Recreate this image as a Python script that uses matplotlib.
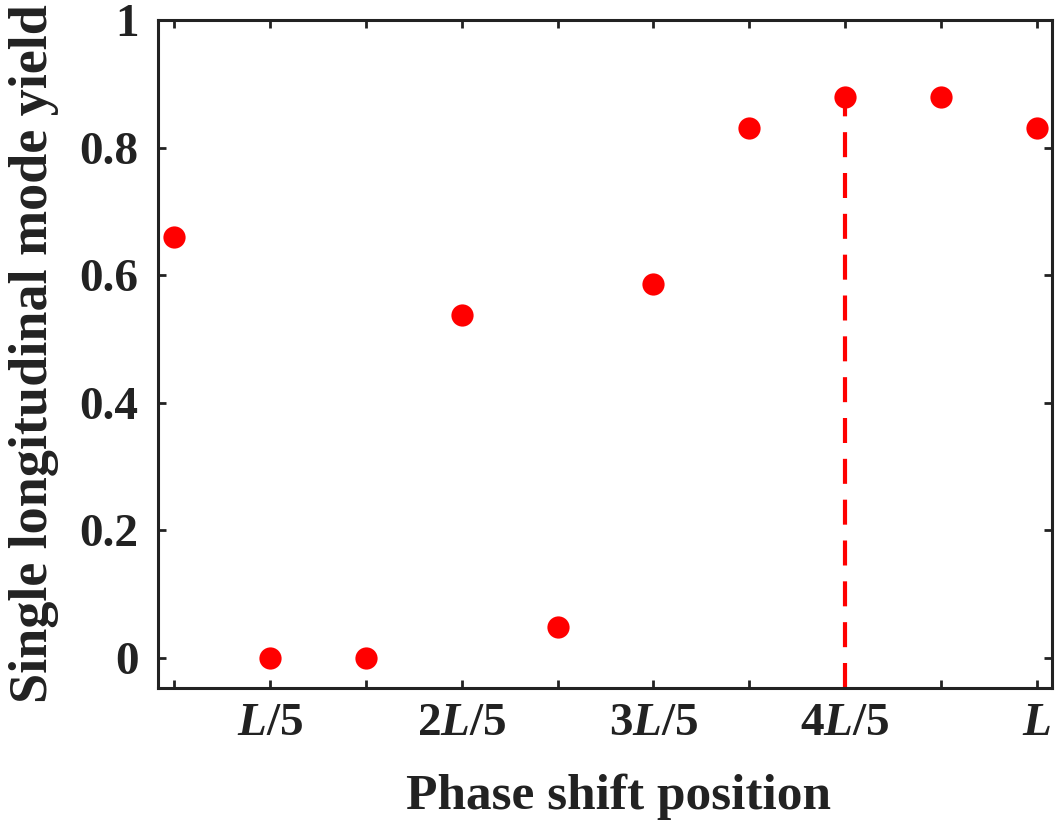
import matplotlib
matplotlib.use("Agg")
import matplotlib.pyplot as plt
from matplotlib.ticker import FixedLocator

plt.rcParams['font.family'] = ['Liberation Serif', 'DejaVu Serif']
plt.rcParams['font.weight'] = 'bold'
plt.rcParams['mathtext.fontset'] = 'custom'
plt.rcParams['mathtext.it'] = 'Liberation Serif:italic:bold'
plt.rcParams['mathtext.rm'] = 'Liberation Serif:bold'
plt.rcParams['mathtext.bf'] = 'Liberation Serif:bold'

# data: phase shift position (fraction of L) and single longitudinal mode yield
positions = [0.1, 0.2, 0.3, 0.4, 0.5, 0.6, 0.7, 0.8, 0.9, 1.0]
yield_vals = [0.66, 0.0, 0.0, 0.538, 0.049, 0.587, 0.831, 0.88, 0.88, 0.83]
marked_position = 0.8
marked_yield = 0.88
xtick_pos = [0.2, 0.4, 0.6, 0.8, 1.0]
xtick_labels = ['$L$/5', '2$L$/5', '3$L$/5', '4$L$/5', '$L$']
ytick_pos = [0, 0.2, 0.4, 0.6, 0.8, 1]
ytick_labels = ['0', '0.2', '0.4', '0.6', '0.8', '1']

fig = plt.figure(figsize=(10.62, 8.31), dpi=100)
ax = fig.add_axes([0.1488, 0.1721, 0.9906 - 0.1488, 0.9759 - 0.1721])

ymin = -0.047
ax.plot([marked_position, marked_position], [ymin, marked_yield], color='#ff0000',
        lw=3, dashes=(6, 3.8), zorder=2)
ax.plot(positions, yield_vals, 'o', color='#ff0000', markersize=16, markeredgewidth=0, zorder=3)

ax.set_xlim(0.0833, 1.0157)
ax.set_ylim(ymin, 1.0)

ax.xaxis.set_major_locator(FixedLocator(xtick_pos))
ax.set_xticklabels(xtick_labels)
ax.xaxis.set_minor_locator(FixedLocator([0.1, 0.3, 0.5, 0.7, 0.9]))
ax.set_yticks(ytick_pos)
ax.set_yticklabels(ytick_labels)

ax.tick_params(axis='both', which='both', direction='in', top=True, right=True,
               length=6, width=2, labelsize=34, colors='#222222')
ax.tick_params(axis='x', which='major', pad=11)
ax.tick_params(axis='y', which='major', pad=14)
for s in ax.spines.values():
    s.set_linewidth(2.2)
    s.set_color('#222222')

ax.set_xlabel('Phase shift position', fontsize=37, fontweight='bold', color='#222222', labelpad=20)
ax.xaxis.set_label_coords(0.515, -0.128)
ax.set_ylabel('Single longitudinal mode yield', fontsize=39, fontweight='bold', color='#222222', labelpad=15)

fig.savefig('out.png', dpi=100)
